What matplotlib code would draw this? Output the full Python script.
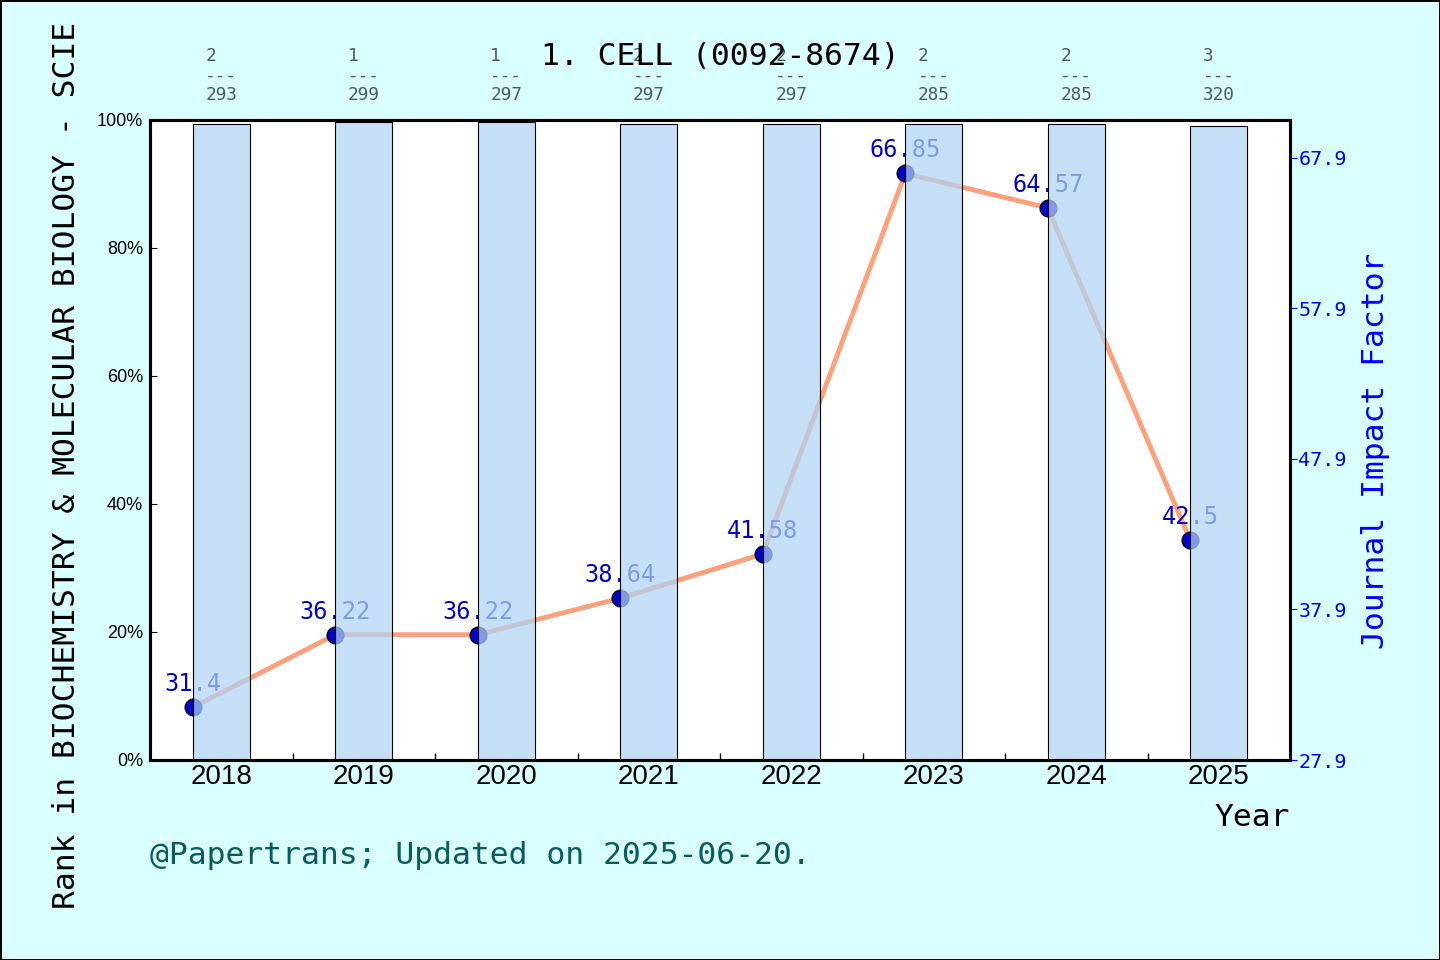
import matplotlib
matplotlib.use('Agg')
import matplotlib.pyplot as plt
import numpy as np
from matplotlib.ticker import FuncFormatter

years = ['2018', '2019', '2020', '2021', '2022', '2023', '2024', '2025']
ranks = [2, 1, 1, 2, 2, 2, 2, 3]
totals = [293, 299, 297, 297, 297, 285, 285, 320]
impact = [31.4, 36.22, 36.22, 38.64, 41.58, 66.85, 64.57, 42.5]
impact_labels = ['31.4', '36.22', '36.22', '38.64', '41.58', '66.85', '64.57', '42.5']
if_ticks = [27.9, 37.9, 47.9, 57.9, 67.9]
pct_ticks = [0, 0.2, 0.4, 0.6, 0.8, 1.0]

MONO = 'DejaVu Sans Mono'
SANS = 'Liberation Sans'

fig = plt.figure(figsize=(14.4, 9.6), dpi=100, facecolor='#D9FFFF',
                 edgecolor='black', linewidth=2)
ax = fig.add_axes([150/1440, 200/960, 1140/1440, 640/960])
ax.set_facecolor('white')
ax2 = ax.twinx()

x = np.arange(len(years))
pos = x - 0.2

# line + markers + labels (beneath bars)
ax.plot(pos, impact, color='#FFA07A', lw=3.5, zorder=2, solid_capstyle='butt')
ax.plot(pos, impact, 'o', ms=12, mfc='#0000CD', mec='black', mew=1, zorder=3)
for xi, v, lab in zip(pos, impact, impact_labels):
    ax.annotate(lab, (xi, v), xytext=(0, 11.5), textcoords='offset points',
                ha='center', va='baseline', fontsize=17, family=MONO,
                color='#0000CD', zorder=4)

ax.set_xlim(-0.5, 7.5)
ax.set_ylim(27.9, 70.4)
ax.yaxis.tick_right()
ax.set_yticks(if_ticks)
ax.set_yticklabels([f'{t:.1f}' for t in if_ticks])
ax.tick_params(axis='y', direction='out', length=5, colors='blue',
               labelsize=14.5, pad=1)
for lbl in ax.get_yticklabels():
    lbl.set_family(MONO)

ax.set_xticks(x)
ax.set_xticklabels(years, fontsize=20, family=SANS)
ax.set_xticks(x[:-1] + 0.5, minor=True)
ax.tick_params(axis='x', which='major', length=0, pad=3)
ax.tick_params(axis='x', which='minor', direction='in', length=5, width=1)

# bars (semi-transparent, on top)
heights = [1 - r / t for r, t in zip(ranks, totals)]
ax2.bar(pos, heights, width=0.4, align='edge',
        color=(175/255, 212/255, 244/255, 0.73), edgecolor='black', linewidth=0.8)
ax2.set_ylim(0, 1)
ax2.yaxis.tick_left()
ax2.set_yticks(pct_ticks)
ax2.yaxis.set_major_formatter(FuncFormatter(lambda v, p: f'{v*100:.0f}%'))
ax2.tick_params(axis='y', direction='in', length=5, labelsize=13, pad=5)
for lbl in ax2.get_yticklabels():
    lbl.set_family(SANS)

for a in (ax, ax2):
    for s in a.spines.values():
        s.set_linewidth(2.2)
        s.set_color('black')

# rank fractions above bars
for xi, r, t in zip(x, ranks, totals):
    ax.text(xi, 1.069, f'{r}\n---\n{t}', transform=ax.get_xaxis_transform(),
            ha='center', va='center', multialignment='left', fontsize=12.8,
            family=MONO, color='#505a5a', linespacing=1.1, clip_on=False)

fig.text(0.5, 0.941, '1. CELL (0092-8674)', ha='center', va='center',
         fontsize=22.6, family=MONO, color='black', zorder=10)
fig.text(67/1440, 1 - 465/960, 'Rank in BIOCHEMISTRY & MOLECULAR BIOLOGY - SCIE',
         rotation=90, ha='center', va='center', fontsize=22.6, family=MONO,
         color='black')
fig.text(1375/1440, 1 - 451/960, 'Journal Impact Factor', rotation=90,
         ha='center', va='center', fontsize=22.6, family=MONO, color='blue')
fig.text(1290/1440, 1 - 817/960, 'Year', ha='right', va='center',
         fontsize=22.6, family=MONO, color='black')
fig.text(150/1440, 1 - 855/960, '@Papertrans; Updated on 2025-06-20.',
         ha='left', va='center', fontsize=22.6, family=MONO, color='#0a5c5c')

fig.savefig('out.png', dpi=100, facecolor=fig.get_facecolor(),
            edgecolor=fig.get_edgecolor())
